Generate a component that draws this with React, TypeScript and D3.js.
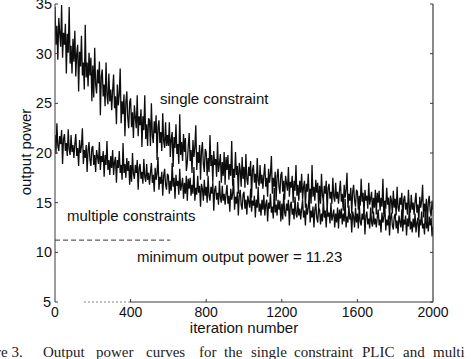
import React from "react";
import * as d3 from "d3";

const iterationStep = 5;

const singleConstraint: number[] = [
  34.7, 30.9, 32.8, 29.4, 33.6, 32.1, 30.7, 34.9, 29.6, 32.1, 30.9, 33.0, 28.0, 32.0, 30.1, 34.7, 29.0, 30.8, 28.0, 31.5,
  29.2, 32.3, 27.7, 30.0, 30.9, 26.2, 30.2, 28.7, 31.8, 27.8, 29.1, 26.4, 32.9, 27.6, 29.1, 26.7, 30.1, 27.8, 29.6, 25.2,
  28.8, 25.6, 30.6, 26.9, 26.0, 28.4, 27.0, 29.2, 23.8, 27.7, 28.4, 25.7, 26.9, 24.7, 29.1, 25.8, 24.9, 28.0, 25.2, 26.4,
  24.3, 26.3, 27.9, 24.5, 25.7, 22.9, 26.9, 24.8, 25.9, 28.5, 23.0, 25.2, 23.9, 25.9, 21.7, 25.1, 26.2, 23.5, 22.5, 25.1,
  25.5, 22.6, 24.1, 21.5, 24.8, 23.6, 22.5, 25.8, 21.7, 23.7, 22.8, 24.4, 20.6, 23.7, 22.3, 25.8, 21.4, 22.9, 20.7, 23.5,
  23.3, 20.7, 25.0, 21.8, 21.0, 23.2, 22.0, 23.8, 19.3, 22.6, 23.3, 21.0, 22.1, 20.2, 24.0, 21.2, 20.5, 23.1, 20.7, 21.8,
  20.7, 23.1, 19.6, 21.4, 22.1, 18.6, 21.6, 20.5, 22.9, 19.9, 20.9, 18.9, 23.9, 19.8, 21.1, 19.2, 21.9, 20.1, 21.5, 18.2,
  19.0, 20.7, 22.0, 19.2, 20.3, 18.0, 21.3, 19.6, 20.6, 22.8, 18.3, 20.1, 19.0, 20.8, 17.3, 20.2, 21.1, 18.9, 18.1, 20.4,
  20.1, 17.7, 19.5, 18.1, 21.8, 18.7, 19.8, 17.0, 20.2, 18.8, 19.4, 17.6, 21.1, 18.1, 18.9, 19.9, 17.0, 19.1, 17.7, 20.1,
  16.8, 19.6, 18.3, 19.8, 17.3, 18.9, 17.7, 21.2, 16.7, 18.4, 17.5, 20.1, 17.8, 18.7, 15.9, 19.0, 18.3, 16.6, 19.6, 17.4,
  18.6, 16.5, 19.9, 17.4, 16.8, 18.6, 17.7, 19.2, 15.5, 18.3, 18.8, 17.0, 17.9, 16.4, 19.5, 17.2, 16.7, 18.8, 16.9, 17.8,
  16.4, 17.8, 18.9, 16.6, 17.5, 15.6, 18.4, 17.0, 17.9, 19.7, 15.9, 17.5, 16.6, 18.1, 15.2, 17.6, 18.4, 16.6, 15.9, 17.8,
  18.1, 16.1, 17.2, 15.3, 17.7, 16.9, 16.2, 18.6, 15.6, 17.1, 16.5, 17.7, 15.0, 17.2, 16.2, 18.8, 15.7, 16.8, 15.2, 17.2,
  16.0, 17.9, 15.3, 16.6, 17.2, 14.5, 16.9, 16.1, 17.9, 15.6, 16.4, 14.9, 18.8, 15.6, 16.6, 15.2, 17.3, 16.0, 17.0, 14.5,
  16.7, 14.9, 17.9, 15.7, 15.2, 16.7, 15.9, 17.2, 14.1, 16.5, 16.9, 15.4, 16.1, 14.9, 17.5, 15.6, 15.1, 17.0, 15.4, 16.1,
  14.9, 16.2, 17.2, 15.1, 15.9, 14.2, 16.8, 15.5, 16.3, 18.0, 14.5, 15.9, 15.2, 16.5, 13.9, 16.1, 16.8, 15.2, 14.6, 16.3,
  16.1, 14.3, 15.7, 14.7, 17.4, 15.1, 16.0, 13.9, 16.3, 15.2, 15.7, 14.4, 17.0, 14.8, 15.4, 16.1, 13.9, 15.5, 14.5, 16.3,
  13.8, 16.0, 15.0, 16.2, 14.2, 15.5, 14.6, 17.4, 13.8, 15.2, 14.4, 16.5, 14.8, 15.5, 13.3, 15.7, 15.2, 13.9, 16.2, 14.5,
  15.4, 13.7, 16.6, 14.5, 14.1, 15.5, 14.8, 16.0, 13.0, 15.3, 15.7, 14.3, 15.0, 13.8, 16.3, 14.5, 14.0, 15.8, 14.3, 15.0,
  13.8, 15.1, 16.0, 14.0, 14.8, 13.2, 15.6, 14.5, 15.2, 16.8, 13.5, 14.9, 14.1, 15.4, 12.9, 15.0, 15.7, 14.2, 13.6, 15.2,
  14.3,
];

const multipleConstraints: number[] = [
  21.8, 19.9, 23.0, 20.7, 20.2, 21.7, 20.9, 22.3, 18.9, 21.4, 21.9, 20.2, 21.0, 19.7, 22.4, 20.4, 19.8, 21.8, 20.1, 20.8,
  19.5, 20.9, 21.9, 19.7, 20.5, 18.7, 21.3, 20.0, 20.7, 22.5, 18.9, 20.3, 19.5, 20.8, 18.1, 20.3, 21.1, 19.3, 18.7, 20.5,
  20.7, 18.8, 19.8, 18.1, 20.3, 19.6, 18.9, 21.1, 18.3, 19.7, 19.1, 20.2, 17.6, 19.8, 18.8, 21.2, 18.3, 19.3, 17.8, 19.7,
  18.5, 20.3, 17.8, 19.1, 19.6, 17.0, 19.3, 18.5, 20.2, 18.0, 18.8, 17.3, 21.0, 18.0, 18.9, 17.5, 19.5, 18.2, 19.2, 16.8,
  18.8, 17.1, 20.0, 17.9, 17.4, 18.8, 18.0, 19.3, 16.3, 18.5, 18.9, 17.4, 18.1, 16.9, 19.4, 17.6, 17.1, 18.9, 17.3, 18.0,
  16.8, 18.0, 19.0, 17.0, 17.8, 16.1, 18.5, 17.3, 18.0, 19.6, 16.3, 17.6, 16.9, 18.1, 15.7, 17.7, 18.4, 16.8, 16.3, 17.9,
  17.7, 15.9, 17.2, 16.2, 19.0, 16.6, 17.5, 15.4, 17.8, 16.7, 17.2, 15.8, 18.4, 16.2, 16.8, 17.5, 15.4, 17.0, 15.9, 17.7,
  15.2, 17.4, 16.4, 17.5, 15.7, 16.8, 15.9, 18.6, 15.2, 16.5, 15.8, 17.7, 16.0, 16.7, 14.6, 16.9, 16.4, 15.2, 17.3, 15.7,
  16.6, 15.0, 17.7, 15.7, 15.2, 16.6, 15.9, 17.0, 14.2, 16.3, 16.7, 15.3, 16.0, 14.8, 17.2, 15.5, 15.0, 16.7, 15.2, 15.9,
  14.8, 15.9, 16.8, 14.9, 15.7, 14.1, 16.4, 15.3, 15.9, 17.4, 14.3, 15.6, 14.9, 16.1, 13.7, 15.7, 16.3, 14.8, 14.3, 15.8,
  16.1, 14.4, 15.3, 13.8, 15.7, 15.1, 14.5, 16.4, 14.1, 15.2, 14.7, 15.7, 13.5, 15.3, 14.5, 16.6, 14.1, 14.9, 13.7, 15.3,
  14.3, 15.8, 13.7, 14.8, 15.3, 13.1, 15.0, 14.4, 15.9, 14.0, 14.6, 13.4, 16.5, 14.0, 14.8, 13.7, 15.3, 14.3, 15.2, 13.1,
  14.9, 13.3, 15.9, 14.0, 13.6, 14.9, 14.2, 15.3, 12.7, 14.7, 15.1, 13.8, 14.4, 13.3, 15.6, 13.9, 13.5, 15.1, 13.7, 14.4,
  13.3, 14.4, 15.3, 13.5, 14.2, 12.7, 14.9, 13.8, 14.5, 15.9, 13.0, 14.2, 13.5, 14.6, 12.5, 14.3, 14.9, 13.5, 13.0, 14.5,
  14.3, 12.8, 13.9, 13.1, 15.4, 13.5, 14.2, 12.5, 14.5, 13.6, 14.0, 12.9, 15.0, 13.2, 13.7, 14.3, 12.5, 13.9, 13.0, 14.5,
  12.4, 14.3, 13.4, 14.4, 12.8, 13.9, 13.1, 15.4, 12.5, 13.6, 13.0, 14.7, 13.3, 13.9, 12.0, 14.1, 13.6, 12.5, 14.5, 13.0,
  13.9, 12.4, 14.8, 13.1, 12.7, 13.9, 13.3, 14.3, 11.8, 13.7, 14.1, 12.8, 13.4, 12.4, 14.5, 13.0, 12.6, 14.1, 12.8, 13.4,
  12.5, 13.5, 14.3, 12.7, 13.3, 12.0, 14.0, 13.0, 13.6, 14.9, 12.2, 13.3, 12.7, 13.7, 11.7, 13.4, 14.0, 12.7, 12.3, 13.6,
  13.9, 12.4, 13.2, 11.9, 13.7, 13.1, 12.5, 14.3, 12.1, 13.3, 12.8, 13.7, 11.7, 13.4, 12.6, 14.6, 12.3, 13.1, 12.0, 13.4,
  12.5, 13.9, 12.0, 13.0, 13.5, 11.5, 13.3, 12.7, 14.1, 12.4, 12.9, 11.8, 14.7, 12.4, 13.1, 12.1, 13.6, 12.7, 13.5, 11.6,
  12.6,
];

const xTicks = [0, 400, 800, 1200, 1600, 2000];
const yTicks = [5, 10, 15, 20, 25, 30, 35];
const minimumPower = 11.23;

const captionWords = [
  { text: "re 3.", x: -4 },
  { text: "Output", x: 43 },
  { text: "power", x: 96 },
  { text: "curves", x: 146 },
  { text: "for", x: 199 },
  { text: "the", x: 224 },
  { text: "single", x: 251 },
  { text: "constraint", x: 294 },
  { text: "PLIC", x: 362 },
  { text: "and", x: 403 },
  { text: "multi", x: 433 },
];

export default function App() {
  const x = d3.scaleLinear().domain([0, 2000]).range([55, 433]);
  const y = d3.scaleLinear().domain([5, 35]).range([302, 4]);
  const line = d3
    .line<number>()
    .x((_, i) => x(i * iterationStep))
    .y((d) => y(d));
  const sans = "'Liberation Sans', Arial, Helvetica, sans-serif";
  const axisColor = "#3a3a3a";

  return (
    <svg
      width={474}
      height={359}
      style={{ position: "absolute", left: 0, top: 0, background: "#fff" }}
    >
      <defs>
        <clipPath id="plotClip">
          <rect x={55} y={0} width={378} height={302} />
        </clipPath>
      </defs>
      <g clipPath="url(#plotClip)" fill="none">
        <path d={line(singleConstraint) || ""} stroke="#0d0d0d" strokeWidth={1.3} />
        <path d={line(multipleConstraints) || ""} stroke="#0d0d0d" strokeWidth={1.3} />
      </g>
      {/* spines */}
      <line x1={55} x2={55} y1={y(35)} y2={y(5)} stroke={axisColor} strokeWidth={1} />
      <line x1={433} x2={433} y1={y(35)} y2={y(5)} stroke={axisColor} strokeWidth={1.2} />
      <line x1={84} x2={130} y1={y(5)} y2={y(5)} stroke="#888" strokeWidth={1} strokeDasharray="2,2" />
      <line x1={130} x2={433} y1={y(5)} y2={y(5)} stroke={axisColor} strokeWidth={1} />
      {/* ticks */}
      {yTicks.map((t) => (
        <g key={"yt" + t}>
          <line x1={55} x2={58} y1={y(t)} y2={y(t)} stroke={axisColor} />
          <line x1={430} x2={433} y1={y(t)} y2={y(t)} stroke={axisColor} />
          <text
            x={t === 5 ? 51 : 52}
            y={y(t)}
            dy="0.35em"
            textAnchor="end"
            fontFamily={sans}
            fontSize={14.5}
            fill="#111"
          >
            {t}
          </text>
        </g>
      ))}
      {xTicks.map((t) => (
        <g key={"xt" + t}>
          {t > 0 && t < 2000 && (
            <line x1={x(t)} x2={x(t)} y1={y(5)} y2={y(5) - 3} stroke={axisColor} />
          )}
          <text
            x={x(t)}
            y={317}
            textAnchor="middle"
            fontFamily={sans}
            fontSize={14}
            fill="#111"
          >
            {t}
          </text>
        </g>
      ))}
      {/* minimum power dashed line */}
      <line
        x1={x(0)}
        x2={x(610)}
        y1={y(minimumPower)}
        y2={y(minimumPower)}
        stroke="#333"
        strokeWidth={1}
        strokeDasharray="5,3"
      />
      {/* annotations */}
      <text x={160} y={104} fontFamily={sans} fontSize={15} fill="#111">
        single constraint
      </text>
      <text x={67} y={221} fontFamily={sans} fontSize={15} fill="#111">
        multiple constraints
      </text>
      <text x={137} y={262} fontFamily={sans} fontSize={15} fill="#111">
        minimum output power = 11.23
      </text>
      {/* axis labels */}
      <text x={244} y={333} textAnchor="middle" fontFamily={sans} fontSize={15} fill="#111">
        iteration number
      </text>
      <text
        transform="translate(31,152) rotate(-90)"
        textAnchor="middle"
        fontFamily={sans}
        fontSize={15}
        fill="#111"
      >
        output power
      </text>
      {/* caption fragment */}
      {captionWords.map((w) => (
        <text
          key={w.text}
          x={w.x}
          y={357}
          fontFamily="'Liberation Serif', 'Times New Roman', serif"
          fontSize={15}
          fill="#222"
        >
          {w.text}
        </text>
      ))}
    </svg>
  );
}
